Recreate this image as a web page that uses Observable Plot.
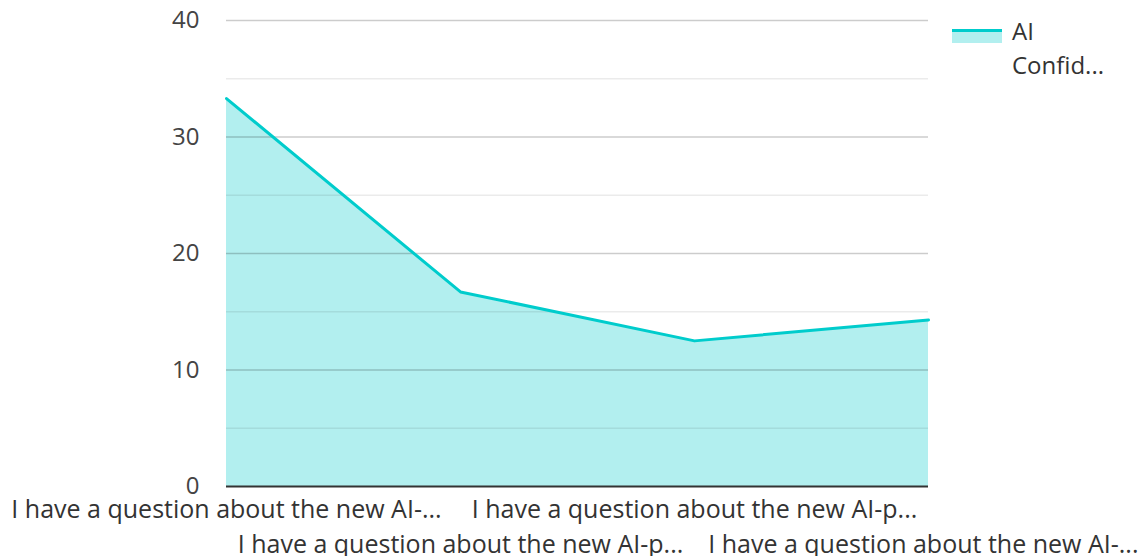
<!DOCTYPE html>
<html>
<head>
<meta charset="utf-8">
<script src="https://cdn.jsdelivr.net/npm/d3@7"></script>
<script src="https://cdn.jsdelivr.net/npm/@observablehq/plot@0.6"></script>
<style>
  html, body { margin: 0; padding: 0; background: #fff; }
  #wrap { position: relative; width: 1146px; height: 556px; font-family: "Open Sans", "Noto Sans", sans-serif; }
  #legend { position: absolute; left: 952px; top: 14px; display: flex; align-items: flex-start; color: #333; font-size: 24px; line-height: 34px; }
  #legend .sw { width: 50px; height: 14px; margin-top: 15px; margin-right: 10px; background: #b2efef; border-top: 3px solid #00cccc; box-sizing: border-box; }
</style>
</head>
<body>
<div id="wrap"><div id="legend"></div></div>
<script>
const categories = [
  "I have a question about the new AI-...",
  "I have a question about the new AI-p...",
  "I have a question about the new AI-p...",
  "I have a question about the new AI-..."
];
const values = [33.3, 16.7, 12.5, 14.3];
const yTicks = [0, 10, 20, 30, 40];
const yMinor = [5, 15, 25, 35];
const seriesName = ["AI", "Confid..."];

const data = values.map((v, i) => ({ i, v }));
const FS = 25;

const chart = Plot.plot({
  width: 1146,
  height: 556,
  marginLeft: 226,
  marginRight: 218,
  marginTop: 20,
  marginBottom: 70,
  x: { type: "point", domain: categories.map((_, i) => i), padding: 0, axis: null },
  y: { domain: [0, 40], axis: null },
  style: { fontFamily: "Open Sans, Noto Sans, sans-serif", background: "#fff" },
  marks: [
    Plot.areaY(data, { x: "i", y: "v", fill: "#b2efef" }),
    Plot.ruleY(yMinor, { stroke: "#000", strokeOpacity: 0.08, strokeWidth: 1.5 }),
    Plot.ruleY(yTicks.filter(d => d > 0), { stroke: "#000", strokeOpacity: 0.2, strokeWidth: 1.5 }),
    Plot.ruleY([0], { stroke: "#333", strokeWidth: 2 }),
    Plot.lineY(data, { x: "i", y: "v", stroke: "#00cccc", strokeWidth: 3 }),
    Plot.text(yTicks, { y: d => d, frameAnchor: "left", dx: -27, textAnchor: "end", text: d => String(d), fontSize: 24, fill: "#444" }),
    Plot.text(data.filter(d => d.i % 2 === 0), { x: "i", text: d => categories[d.i], frameAnchor: "bottom", dy: 23, lineAnchor: "middle", fontSize: FS, fill: "#333" }),
    Plot.text(data.filter(d => d.i === 1), { x: "i", text: d => categories[d.i], frameAnchor: "bottom", dy: 58, lineAnchor: "middle", fontSize: FS, fill: "#333" }),
    Plot.text(data.filter(d => d.i === 3), { x: "i", text: d => categories[d.i], frameAnchor: "bottom", dy: 58, dx: 210, textAnchor: "end", lineAnchor: "middle", fontSize: FS, fill: "#333" })
  ]
});
const wrap = document.getElementById("wrap");
wrap.insertBefore(chart, wrap.firstChild);

const legend = document.getElementById("legend");
legend.innerHTML = `<div class="sw"></div><div>${seriesName.join("<br>")}</div>`;
</script>
</body>
</html>
